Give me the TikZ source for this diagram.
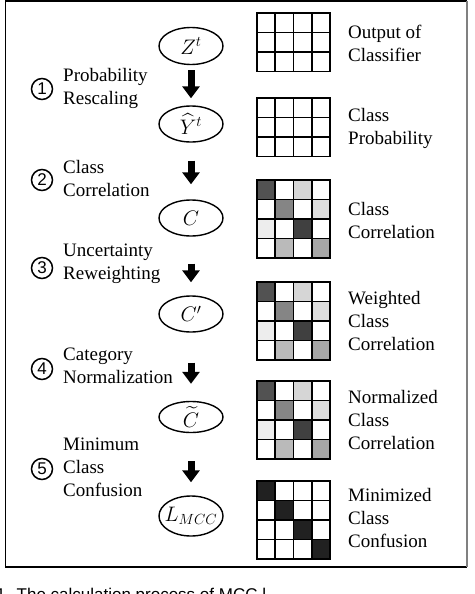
\RequirePackage{fix-cm}
\documentclass[tikz,border=0pt]{standalone}
\usepackage{amsmath}
\usepackage{fontspec}
\setmainfont{Liberation Serif}
\newfontfamily\capsans{Liberation Sans}
\usetikzlibrary{arrows.meta,shapes.geometric}
% one matrix picture: top edge, colours row by row (4 per row)
\newcommand{\shadegrid}[2]{%
  \foreach \shade [count=\k from 0] in #2 {
    \pgfmathtruncatemacro\gr{\k/4}
    \pgfmathtruncatemacro\gc{\k-4*\gr}
    \filldraw[cell,fill=\shade] (257+\gc*18.25,#1+\gr*19.5) rectangle ++(18.25,19.5);
  }}
\newcommand{\plainshades}{white,white,white,white,white,white,white,white,white,white,white,white}
\newcommand{\corrshades}{black!68,white,black!16,white,white,black!48,white,black!13,black!7,white,black!75,white,white,black!27,white,black!35}
\newcommand{\diagshades}{black!87,white,white,white,white,black!87,white,white,white,white,black!87,white,white,white,white,black!87}

\begin{document}
\begin{tikzpicture}[x=1pt,y=-1pt,
  quantity/.style={ellipse,draw,line width=1.4pt,minimum width=64pt,minimum height=36pt,inner sep=0pt,font=\fontsize{21}{25}\selectfont},
  flow/.style={-{Triangle[width=17pt,length=12pt]},line width=7pt},
  stepnum/.style={circle,draw,line width=1.5pt,minimum size=21pt,inner sep=0pt,font=\capsans\fontsize{17}{17}\selectfont},
  steptext/.style={anchor=west,align=left,inner sep=0pt,font=\fontsize{19}{23}\selectfont},
  desc/.style={anchor=west,align=left,inner sep=0pt,font=\fontsize{19}{23}\selectfont},
  cell/.style={draw,line width=1.6pt},
  frame/.style={line width=1.8pt}
]
\useasboundingbox (0,0) rectangle (474,594);
\draw[frame] (467,1.3)--(5.5,1.3)--(5.5,567)--(467,567);
\draw[frame,black!50] (467,1.3)--(467,567);

% quantities along the pipeline
\node[quantity,minimum height=37pt] (z) at (191,46) {$Z^t$};
\node[quantity] (yhat) at (191,124) {$\widehat{Y}^t$};
\node[quantity] (corr) at (191,218) {$C$};
\node[quantity] (wcorr) at (191,314) {$C'$};
\node[quantity,minimum height=31pt] (ncorr) at (191,417) {$\widetilde{C}$};
\node[quantity,minimum height=40pt,inner xsep=-5pt] (loss) at (191,516) {$L_{MCC}$};

\draw[flow,shorten <=5pt,shorten >=7pt] (z)--(yhat);
\draw[flow,shorten <=18pt,shorten >=15pt] (yhat)--(corr);
\draw[flow,shorten <=27pt,shorten >=13pt] (corr)--(wcorr);
\draw[flow,shorten <=30pt,shorten >=17pt] (wcorr)--(ncorr);
\draw[flow,shorten <=28pt,shorten >=13pt] (ncorr)--(loss);

% steps
\node[stepnum] (n1) at (42,89) {1};
\node[steptext] (s1) at (63,88) {Probability\\Rescaling};
\node[stepnum] (n2) at (42,180) {2};
\node[steptext] (s2) at (63,178) {Class\\Correlation};
\node[stepnum] (n3) at (42,268) {3};
\node[steptext] (s3) at (63,264) {Uncertainty\\Reweighting};
\node[stepnum] (n4) at (42,369) {4};
\node[steptext] (s4) at (63,366) {Category\\Normalization};
\node[stepnum] (n5) at (42,469) {5};
\node[steptext] (s5) at (63,467) {Minimum\\Class\\Confusion};

% matrices
\shadegrid{13}{\plainshades}
\shadegrid{98}{\plainshades}
\shadegrid{180}{\corrshades}
\shadegrid{282}{\corrshades}
\shadegrid{381}{\corrshades}
\shadegrid{481}{\diagshades}

\node[desc] (d1) at (348,43) {Output of\\Classifier};
\node[desc] (d2) at (348,128) {Class\\Probability};
\node[desc] (d3) at (348,220) {Class\\Correlation};
\node[desc] (d4) at (348,321) {Weighted\\Class\\Correlation};
\node[desc] (d5) at (348,420) {Normalized\\Class\\Correlation};
\node[desc] (d6) at (348,518) {Minimized\\Class\\Confusion};

\node[anchor=base west,inner sep=0pt,font=\capsans\fontsize{17}{17}\selectfont] (caption) at (-4,600) {1. The calculation process of MCC l};
\end{tikzpicture}
\end{document}
